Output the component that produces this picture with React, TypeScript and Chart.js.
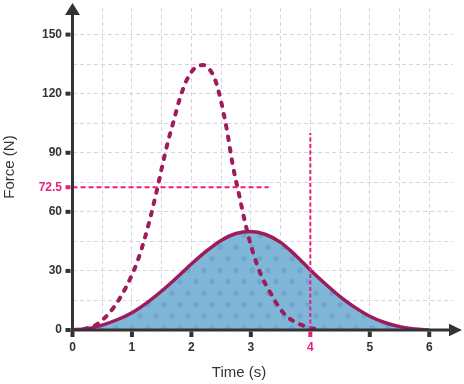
import React, { useEffect, useRef } from "react";
import { Chart, registerables } from "chart.js";

Chart.register(...registerables);

// ---- data ----
const TIME_AREA = [0, 0.25, 0.5, 0.75, 1, 1.25, 1.5, 1.75, 2, 2.25, 2.5, 2.75, 3, 3.25, 3.5, 3.75, 4, 4.25, 4.5, 4.75, 5, 5.25, 5.5, 5.75, 6];
const FORCE_AREA = [0, 0.7, 2.5, 5.2, 8.8, 13.8, 19.8, 26.5, 33.5, 40, 45.5, 49, 50, 48.5, 44.5, 38, 30.5, 23.5, 17, 11.5, 7, 3.8, 1.7, 0.5, 0];

const TIME_DASHED = [0, 0.2, 0.4, 0.6, 0.8, 1.0, 1.1, 1.2, 1.3, 1.4, 1.5, 1.6, 1.7, 1.8, 1.9, 2.0, 2.1, 2.2, 2.3, 2.4, 2.5, 2.6, 2.7, 2.8, 2.9, 3.0, 3.1, 3.2, 3.3, 3.4, 3.5, 3.6, 3.7, 3.8, 3.9, 4.0, 4.1, 4.2];
const FORCE_DASHED = [0, 0.6, 2.7, 8, 16.3, 28, 35.5, 45, 56, 68.5, 82, 95, 106, 117, 125.5, 131, 134, 134.5, 132.5, 127, 116, 101, 83, 69, 55, 43, 33.5, 26, 20.5, 15, 10.5, 7, 4.8, 3.2, 2, 1, 0.6, 0.4];

const TIME_TICKS = [0, 1, 2, 3, 4, 5, 6];
const FORCE_TICKS = [0, 30, 60, 90, 120, 150];
const TIME_GRID = [0, 0.5, 1, 1.5, 2, 2.5, 3, 3.5, 4, 4.5, 5, 5.5, 6];
const FORCE_GRID = [0, 15, 30, 45, 60, 75, 90, 105, 120, 135, 150];

const MARK_TIME = 4;
const MARK_TIME_TOP = 100;
const MARK_FORCE = 72.5;
const MARK_FORCE_END = 3.3;

const X_MAX = 6.4;
const Y_MAX = 163.5;

// ---- styles ----
const TEXT = "#333333";
const PINK = "#ea1e7b";
const LINE = "#9d1c5c";
const GRID = "#d8d4e8";
const FONT = '"Liberation Sans", Arial, sans-serif';

function makePattern(): CanvasPattern | string {
  const c = document.createElement("canvas");
  c.width = 16;
  c.height = 23;
  const g = c.getContext("2d");
  if (!g) return "#80b6d8";
  g.fillStyle = "#80b6d8";
  g.fillRect(0, 0, 16, 23);
  g.fillStyle = "#70a7cb";
  g.beginPath();
  g.arc(4, 5.75, 2.7, 0, Math.PI * 2);
  g.fill();
  g.beginPath();
  g.arc(12, 17.25, 2.7, 0, Math.PI * 2);
  g.fill();
  return g.createPattern(c, "repeat") || "#80b6d8";
}

const axesPlugin = {
  id: "customAxes",
  afterDatasetsDraw(chart: any) {
    const { ctx, scales, chartArea } = chart;
    const xs = scales.x;
    const ys = scales.y;
    const x0 = xs.getPixelForValue(0);
    const y0 = ys.getPixelForValue(0);
    ctx.save();
    ctx.strokeStyle = TEXT;
    ctx.fillStyle = TEXT;
    ctx.lineWidth = 3;
    // x axis
    ctx.beginPath();
    ctx.moveTo(x0 - 2, y0);
    ctx.lineTo(chartArea.right, y0);
    ctx.stroke();
    ctx.beginPath();
    ctx.moveTo(chartArea.right + 9, y0);
    ctx.lineTo(chartArea.right - 4, y0 - 6.3);
    ctx.lineTo(chartArea.right - 4, y0 + 6.3);
    ctx.closePath();
    ctx.fill();
    // y axis
    ctx.beginPath();
    ctx.moveTo(x0, y0 + 2);
    ctx.lineTo(x0, chartArea.top + 4);
    ctx.stroke();
    ctx.beginPath();
    ctx.moveTo(x0, chartArea.top - 5);
    ctx.lineTo(x0 - 7.5, chartArea.top + 7);
    ctx.lineTo(x0 + 7.5, chartArea.top + 7);
    ctx.closePath();
    ctx.fill();
    // tick squares
    TIME_TICKS.forEach((t) => {
      const px = xs.getPixelForValue(t);
      ctx.fillStyle = t === MARK_TIME ? PINK : TEXT;
      ctx.fillRect(px - 2, y0 + 1.5, 4, 5.5);
    });
    FORCE_TICKS.forEach((f) => {
      const py = ys.getPixelForValue(f);
      ctx.fillStyle = TEXT;
      ctx.fillRect(x0 - 7, py - 2, 5, 4);
    });
    ctx.fillStyle = PINK;
    ctx.fillRect(x0 - 7, ys.getPixelForValue(MARK_FORCE) - 2, 5, 4);
    // titles
    ctx.fillStyle = TEXT;
    ctx.font = `15px ${FONT}`;
    ctx.textAlign = "center";
    ctx.textBaseline = "alphabetic";
    ctx.fillText("Time (s)", 239, 377);
    ctx.translate(14, 167);
    ctx.rotate(-Math.PI / 2);
    ctx.fillText("Force (N)", 0, 0);
    ctx.restore();
  },
};

export default function App() {
  const ref = useRef<HTMLCanvasElement>(null);

  useEffect(() => {
    document.body.style.margin = "0";
    const canvas = ref.current;
    if (!canvas) return;
    const pattern = makePattern();
    const areaData = TIME_AREA.map((t, i) => ({ x: t, y: FORCE_AREA[i] }));
    const dashedData = TIME_DASHED.map((t, i) => ({ x: t, y: FORCE_DASHED[i] }));

    const chart = new Chart(canvas, {
      type: "line",
      data: {
        datasets: [
          {
            data: [
              { x: MARK_TIME, y: 0 },
              { x: MARK_TIME, y: MARK_TIME_TOP },
            ],
            borderColor: PINK,
            borderWidth: 2,
            borderDash: [4, 2.5],
            fill: false,
            pointRadius: 0,
          },
          {
            data: [
              { x: 0, y: MARK_FORCE },
              { x: MARK_FORCE_END, y: MARK_FORCE },
            ],
            borderColor: PINK,
            borderWidth: 2,
            borderDash: [5, 3],
            fill: false,
            pointRadius: 0,
          },
          {
            data: dashedData,
            borderColor: LINE,
            borderWidth: 4,
            borderDash: [3.5, 8],
            borderCapStyle: "round",
            cubicInterpolationMode: "monotone",
            fill: false,
            pointRadius: 0,
          },
          {
            data: areaData,
            borderColor: LINE,
            borderWidth: 3.5,
            backgroundColor: pattern as any,
            cubicInterpolationMode: "monotone",
            fill: "origin",
            pointRadius: 0,
          },
        ],
      } as any,
      options: {
        animation: false,
        responsive: false,
        devicePixelRatio: 1,
        layout: { padding: { left: 0, top: 8, right: 11, bottom: 0 } },
        plugins: { legend: { display: false }, tooltip: { enabled: false } },
        elements: { point: { radius: 0 } },
        scales: {
          x: {
            type: "linear",
            min: 0,
            max: X_MAX,
            afterFit: (s: any) => {
              s.height = 54;
              s.paddingLeft = 0;
              s.paddingRight = 0;
            },
            afterBuildTicks: (s: any) => {
              s.ticks = TIME_GRID.map((v) => ({ value: v }));
            },
            grid: { color: GRID, lineWidth: 1, drawTicks: false },
            border: { display: false, dash: [4, 3] },
            ticks: {
              padding: 10,
              autoSkip: false,
              maxRotation: 0,
              font: { family: FONT, size: 12, weight: "bold" },
              color: (c: any) => (c.tick && c.tick.value === MARK_TIME ? PINK : TEXT),
              callback: (v: any) => (TIME_TICKS.includes(Number(v)) ? String(v) : ""),
            },
          },
          y: {
            type: "linear",
            min: 0,
            max: Y_MAX,
            afterFit: (s: any) => {
              s.width = 72.5;
              s.paddingTop = 0;
              s.paddingBottom = 0;
            },
            afterBuildTicks: (s: any) => {
              s.ticks = [...FORCE_GRID, MARK_FORCE].sort((a, b) => a - b).map((v) => ({ value: v }));
            },
            grid: {
              color: (c: any) => (c.tick && c.tick.value === MARK_FORCE ? "rgba(0,0,0,0)" : GRID),
              lineWidth: 1,
              drawTicks: false,
            },
            border: { display: false, dash: [4, 3] },
            ticks: {
              padding: 10.5,
              autoSkip: false,
              font: { family: FONT, size: 12, weight: "bold" },
              color: (c: any) => (c.tick && c.tick.value === MARK_FORCE ? PINK : TEXT),
              callback: (v: any) => {
                const n = Number(v);
                if (n === MARK_FORCE) return "72.5";
                return FORCE_TICKS.includes(n) ? String(n) : "";
              },
            },
          },
        },
      } as any,
      plugins: [axesPlugin],
    });
    return () => chart.destroy();
  }, []);

  return (
    <canvas
      ref={ref}
      width={464}
      height={384}
      style={{ display: "block", width: 464, height: 384 }}
    />
  );
}
